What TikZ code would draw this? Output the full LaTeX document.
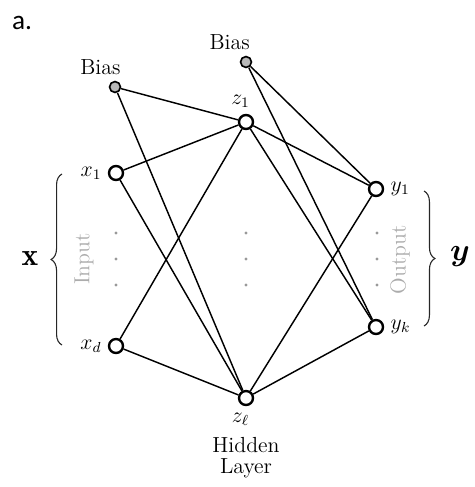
\documentclass[tikz,border=0pt]{standalone}
\usepackage{bm}
\usepackage{fontspec}
\newfontfamily\panelfont{Carlito}
\usetikzlibrary{positioning,decorations.pathreplacing}

\begin{document}
\begin{tikzpicture}[x=0.55pt,y=-0.55pt,font=\large,
    unit/.style={circle,draw=black,line width=1.3pt,fill=white,minimum size=7.7pt,inner sep=0pt},
    biasunit/.style={circle,draw=black,line width=0.9pt,fill=gray!55,minimum size=6pt,inner sep=0pt},
    wire/.style={line width=0.8pt},
    dotmark/.style={circle,fill=gray!80,minimum size=1.9pt,inner sep=0pt},
    layername/.style={gray!65,rotate=90},
    grouping/.style={decorate,decoration={brace,amplitude=6pt},gray!30!black,line width=0.6pt}]
    \useasboundingbox (0,0) rectangle (474,487);

    % Panel letter
    \node[font=\panelfont\fontsize{15}{18}\selectfont] (panel) at (22,23) {a.};

    % Bias units
    \node[biasunit,label={[xshift=-8pt]above:Bias}] (bias1) at (115,87) {};
    \node[biasunit,label={[xshift=-9pt]above:Bias}] (bias2) at (246,62) {};

    % Input, hidden and output units
    \node[unit,label=left:$x_1$] (x1) at (116,173) {};
    \node[unit,label=left:$x_d$] (xd) at (116,346) {};
    \node[unit,label={[xshift=-3pt]above:$z_1$}] (z1) at (246,122) {};
    \node[unit,label={[xshift=-3pt]below:$z_\ell$}] (zl) at (246,398) {};
    \node[unit,label=right:$y_1$] (y1) at (376,189) {};
    \node[unit,label=right:$y_k$] (yk) at (376,327) {};

    % Weights
    \foreach \a/\b in {bias1/z1, bias1/zl, x1/z1, x1/zl, xd/z1, xd/zl,
                       bias2/y1, bias2/yk, z1/y1, z1/yk, zl/y1, zl/yk} {
        \draw[wire] (\a) -- (\b);
    }

    % Vertical dots
    \foreach \x in {116,246,377} {
        \foreach \y in {233,259,285} {
            \node[dotmark] (dot-\x-\y) at (\x,\y) {};
        }
    }

    % Layer names
    \node[layername] (inputname) at (84,259) {Input};
    \node[layername] (outputname) at (400,260) {Output};
    \node[align=center,font=\fontsize{12}{11.5}\selectfont] (hidden) at (246,458) {Hidden\\Layer};

    % Braces
    \coordinate (inbot) at (62,345);
    \coordinate (intop) at (62,174);
    \coordinate (outtop) at (424,191);
    \coordinate (outbot) at (424,326);
    \draw[grouping] (inbot) -- (intop);
    \draw[grouping] (outtop) -- (outbot);
    \node (xvec) at (30,259) {\LARGE$\mathbf{x}$};
    \node (yvec) at (460,257) {\LARGE$\bm{y}$};
\end{tikzpicture}
\end{document}
